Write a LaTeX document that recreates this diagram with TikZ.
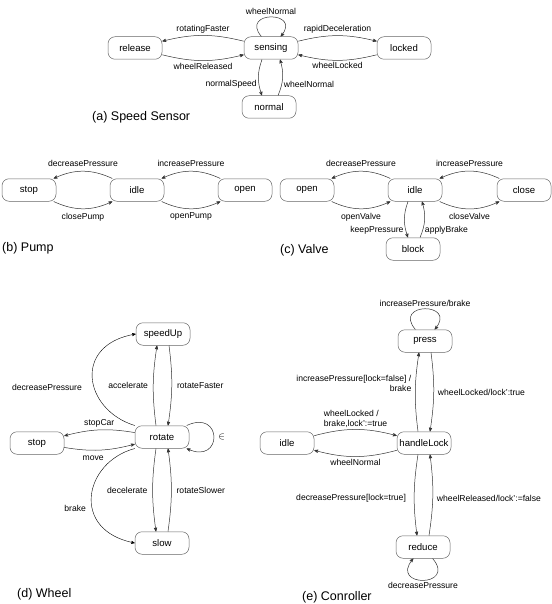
\documentclass[tikz,border=0pt]{standalone}
\usepackage{fontspec}
\setmainfont{Liberation Sans}
\usetikzlibrary{arrows}
\usetikzlibrary{positioning}

\tikzset{
  stbox/.style={rectangle, rounded corners=7pt, draw=black!60, line width=0.5pt,
    minimum width=54pt, minimum height=22.5pt, inner sep=1pt,
    font=\fontsize{9.6}{11}\selectfont},
  lab/.style={font=\fontsize{8.6}{10}\selectfont, inner sep=2pt},
  captext/.style={anchor=west, inner sep=0pt, font=\fontsize{12.5}{14}\selectfont},
}

\begin{document}
\begin{tikzpicture}[x=1pt,y=-1pt,->,>=stealth',auto,node distance=108pt,
    every edge/.style={draw=black!80, line width=0.5pt}]
  \useasboundingbox (0,0) rectangle (551,604);

  % (a) speed sensor
  \node[stbox] (sensing) at (271,48) {sensing};
  \node[stbox] (release) [left of=sensing, node distance=136pt] {release};
  \node[stbox] (locked) [right of=sensing, node distance=133pt] {locked};
  \node[stbox] (normal) at (269,107) {normal};
  \path (sensing) edge[bend right=14] node[lab,above] {rotatingFaster} (release);
  \path (release) edge[bend right=14] node[lab,below] {wheelReleased} (sensing);
  \path (sensing) edge[bend left=14] node[lab,above] {rapidDeceleration} (locked);
  \path (locked) edge[bend left=14] node[lab,below] {wheelLocked} (sensing);
  \path ([xshift=-9pt]sensing.south) edge[bend right=20] node[lab,left,pos=0.7] {normalSpeed} ([xshift=-7pt]normal.north);
  \path ([xshift=9pt]normal.north) edge[bend right=20] node[lab,right,pos=0.3] {wheelNormal} ([xshift=9pt]sensing.south);
  \path (sensing) edge[loop, out=130, in=50, min distance=34pt] node[lab,above] {wheelNormal} (sensing);
  \node[captext] (capA) at (92,117) {(a) Speed Sensor};

  % (b) pump
  \node[stbox] (pStop) at (29,190) {stop};
  \node[stbox] (pIdle) [right of=pStop] {idle};
  \node[stbox] (pOpen) [right of=pIdle] {open};
  \path (pIdle) edge[bend right=25] node[lab,above=2pt] {decreasePressure} (pStop);
  \path (pStop) edge[bend right=25] node[lab,below=2pt] {closePump} (pIdle);
  \path (pOpen) edge[bend right=25] node[lab,above=2pt] {increasePressure} (pIdle);
  \path (pIdle) edge[bend right=25] node[lab,below=2pt] {openPump} (pOpen);
  \node[captext] (capB) at (2,248) {(b) Pump};

  % (c) valve
  \node[stbox] (vIdle) at (415,190) {idle};
  \node[stbox] (vOpen) [left of=vIdle] {open};
  \node[stbox] (vClose) [right of=vIdle, node distance=109pt] {close};
  \node[stbox] (vBlock) at (413,249) {block};
  \path (vIdle) edge[bend right=25] node[lab,above=2pt] {decreasePressure} (vOpen);
  \path (vOpen) edge[bend right=25] node[lab,below=2pt] {openValve} (vIdle);
  \path (vClose) edge[bend right=25] node[lab,above=2pt] {increasePressure} (vIdle);
  \path (vIdle) edge[bend right=25] node[lab,below=2pt] {closeValve} (vClose);
  \path ([xshift=-7pt]vIdle.south) edge[bend right=20] node[lab,left,pos=0.8] {keepPressure} ([xshift=-5pt]vBlock.north);
  \path ([xshift=7pt]vBlock.north) edge[bend right=20] node[lab,right,pos=0.2] {applyBrake} ([xshift=7pt]vIdle.south);
  \node[captext] (capC) at (280,250) {(c) Valve};

  % (d) wheel
  \node[stbox] (rotate) at (162,437) {rotate};
  \node[stbox] (speedUp) at (163,334) {speedUp};
  \node[stbox] (wStop) at (37,443) {stop};
  \node[stbox] (slow) at (162,543) {slow};
  \draw (rotate.north west) .. controls (84,410) and (72,345) .. node[lab,left=10pt,pos=0.42] {decreasePressure} (speedUp.west);
  \path ([xshift=-6pt]rotate.north) edge[bend left=8] node[lab,left=3pt] {accelerate} ([xshift=-6pt]speedUp.south);
  \path ([xshift=6pt]speedUp.south) edge[bend left=8] node[lab,right=3pt] {rotateFaster} ([xshift=6pt]rotate.north);
  \path (rotate) edge[bend right=12] node[lab,above] {stopCar} (wStop);
  \path (wStop) edge[bend right=12] node[lab,below=3pt,pos=0.4] {move} (rotate);
  \draw (rotate.south west) .. controls (84,462) and (70,530) .. node[lab,left=4pt,pos=0.6] {brake} (slow.west);
  \path ([xshift=-6pt]rotate.south) edge[bend right=8] node[lab,left=3pt] {decelerate} ([xshift=-6pt]slow.north);
  \path ([xshift=6pt]slow.north) edge[bend right=8] node[lab,right=3pt] {rotateSlower} ([xshift=6pt]rotate.south);
  \path (rotate) edge[loop, out=25, in=-25, min distance=40pt] node[right=1pt] {$\in$} (rotate);
  \node[captext] (capD) at (17,594) {(d) Wheel};

  % (e) controller
  \node[stbox] (press) at (425,341) {press};
  \node[stbox] (handleLock) at (424,443) {handleLock};
  \node[stbox] (cIdle) at (287,443) {idle};
  \node[stbox] (reduce) at (423,547) {reduce};
  \path (press) edge[loop, out=130, in=50, min distance=36pt] node[lab,above] {increasePressure/brake} (press);
  \path ([xshift=-6pt]handleLock.north) edge[bend left=8] node[lab,left=2pt,pos=0.62,align=right] {increasePressure[lock=false] /\\brake} ([xshift=-6pt]press.south);
  \path ([xshift=6pt]press.south) edge[bend left=8] node[lab,right=2pt] {wheelLocked/lock':true} ([xshift=6pt]handleLock.north);
  \path (cIdle) edge[bend left=15] node[lab,above,align=left] {wheelLocked /\\brake,lock':=true} (handleLock);
  \path (handleLock) edge[bend left=15] node[lab,below] {wheelNormal} (cIdle);
  \path ([xshift=-6pt]handleLock.south) edge[bend right=8] node[lab,left=6pt,pos=0.55] {decreasePressure[lock=true]} ([xshift=-6pt]reduce.north);
  \path ([xshift=6pt]reduce.north) edge[bend right=8] node[lab,right=2pt,pos=0.45] {wheelReleased/lock':=false} ([xshift=6pt]handleLock.south);
  \path (reduce) edge[loop, out=-50, in=-130, min distance=38pt] node[lab,below] {decreasePressure} (reduce);
  \node[captext] (capE) at (302,597) {(e) Conroller};
\end{tikzpicture}
\end{document}
